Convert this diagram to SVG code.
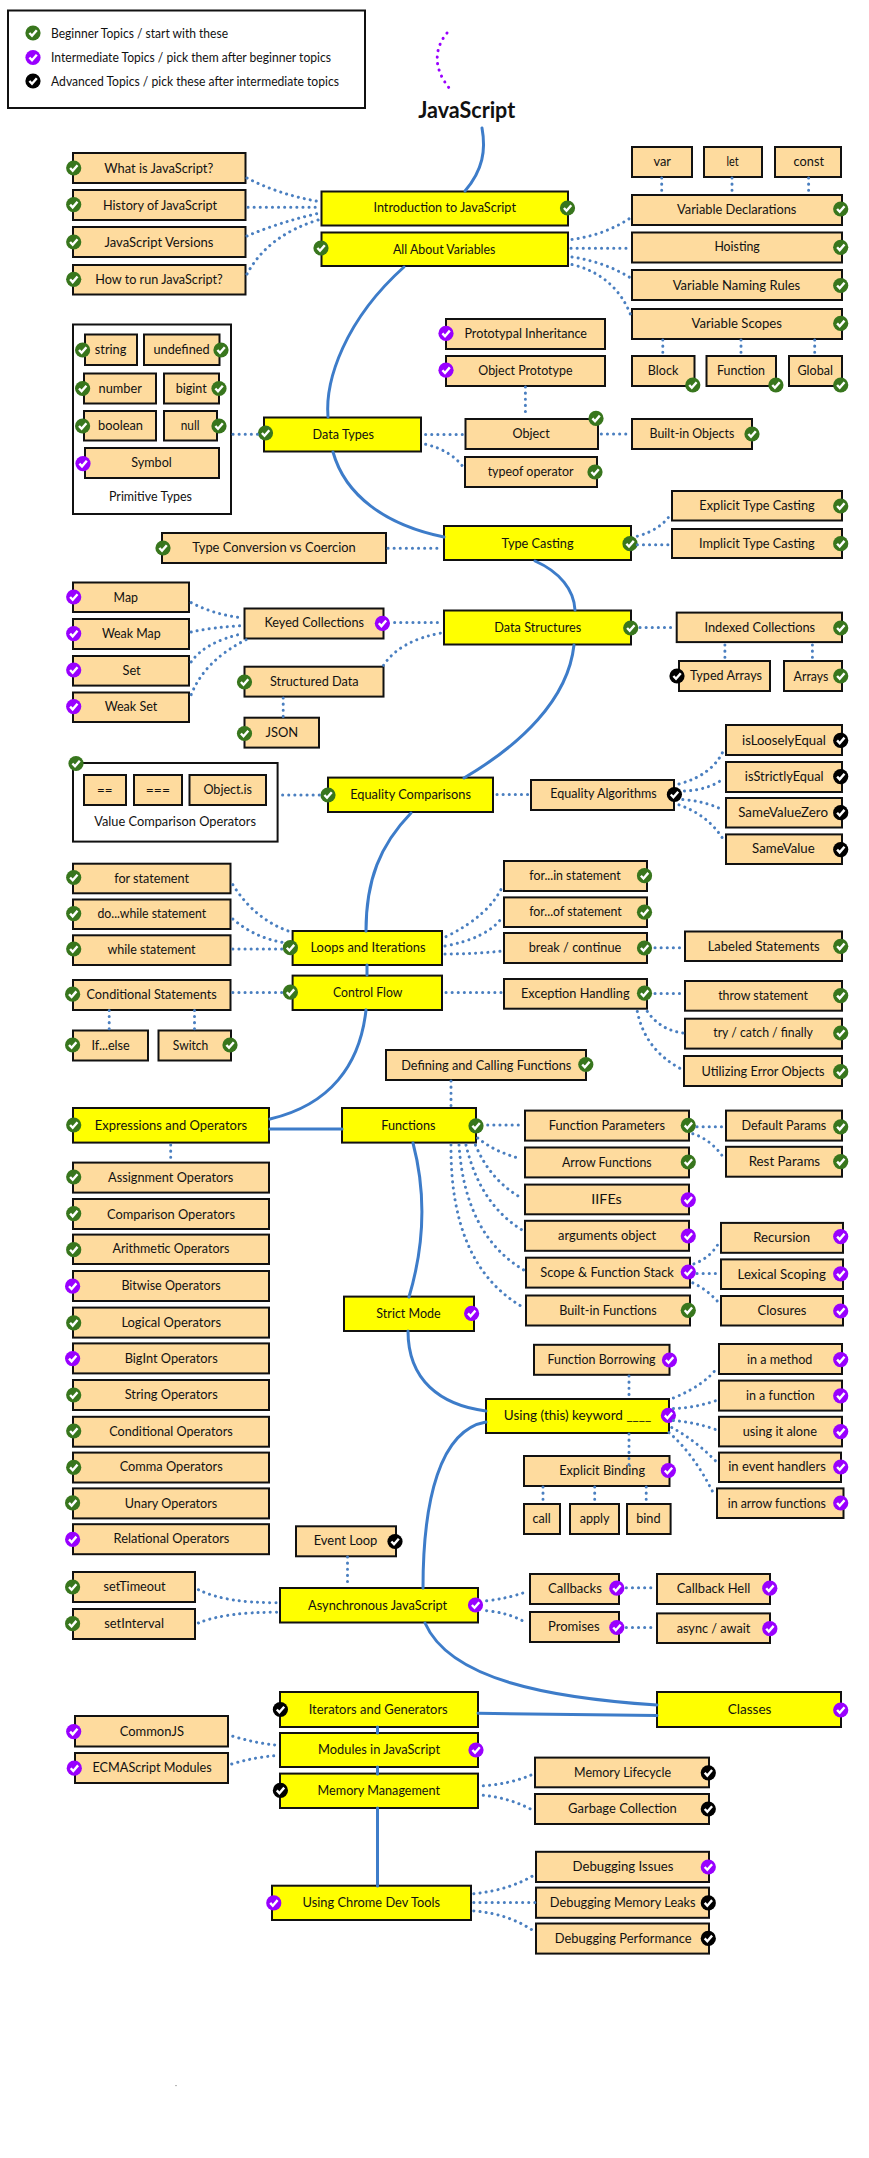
<svg xmlns="http://www.w3.org/2000/svg" width="869" height="2158" viewBox="0 0 869 2158">
<style>
.t{fill:#fedb9e;stroke:#111;stroke-width:2}
.p{fill:#ffff00;stroke:#111;stroke-width:2}
.w{fill:#fff;stroke:#111;stroke-width:2}
text{font-family:"Lato","Liberation Sans",sans-serif;font-size:13px;fill:#111;text-anchor:middle;dominant-baseline:central}
.s{text-anchor:start}
.h{font-size:22px;font-weight:700}
.c{fill:none;stroke:#3d7cc9;stroke-width:3;stroke-linecap:round}
.d{fill:none;stroke:#4a7fc0;stroke-width:3;stroke-linecap:round;stroke-dasharray:0.1 6}
.m{fill:none;stroke:#9900ff;stroke-width:3;stroke-linecap:round;stroke-dasharray:0.1 6.5}
</style>
<defs>
<g id="g"><circle r="7.6" fill="#38761d"/><path d="M-3.6,0 L-1,2.8 L3.8,-2.8" fill="none" stroke="#fff" stroke-width="2.4"/></g>
<g id="v"><circle r="7.6" fill="#9900ff"/><path d="M-3.6,0 L-1,2.8 L3.8,-2.8" fill="none" stroke="#fff" stroke-width="2.4"/></g>
<g id="k"><circle r="7.6" fill="#000"/><path d="M-3.6,0 L-1,2.8 L3.8,-2.8" fill="none" stroke="#fff" stroke-width="2.4"/></g>
</defs>
<rect width="869" height="2158" fill="#fff"/>

<g id="legend">
<rect class="w" x="8" y="10.5" width="357" height="97.5"/>
<use href="#g" x="33" y="33"/><text class="s" x="51" y="33" textLength="177" lengthAdjust="spacingAndGlyphs">Beginner Topics / start with these</text>
<use href="#v" x="33" y="57.5"/><text class="s" x="51" y="57" textLength="280" lengthAdjust="spacingAndGlyphs">Intermediate Topics / pick them after beginner topics</text>
<use href="#k" x="33" y="81"/><text class="s" x="51" y="80.6" textLength="288" lengthAdjust="spacingAndGlyphs">Advanced Topics / pick these after intermediate topics</text>
</g>
<g id="title"><path class="m" d="M447,33 C433,50 434,70 450,89"/><text class="h" x="466.7" y="109.5" textLength="97" lengthAdjust="spacingAndGlyphs">JavaScript</text></g>

<g id="n-what"><rect class="t" x="73" y="153" width="172.5" height="30"/><text x="158.7" y="167.7" textLength="109" lengthAdjust="spacingAndGlyphs">What is JavaScript?</text><use href="#g" x="73.7" y="168"/></g>
<g id="n-history"><rect class="t" x="73" y="190" width="172.5" height="30"/><text x="160" y="205" textLength="114" lengthAdjust="spacingAndGlyphs">History of JavaScript</text><use href="#g" x="73.7" y="204.6"/></g>
<g id="n-versions"><rect class="t" x="73" y="227" width="172.5" height="30"/><text x="159" y="242" textLength="109" lengthAdjust="spacingAndGlyphs">JavaScript Versions</text><use href="#g" x="73.7" y="242"/></g>
<g id="n-run"><rect class="t" x="73" y="265" width="172.5" height="29.5"/><text x="159" y="279" textLength="127.5" lengthAdjust="spacingAndGlyphs">How to run JavaScript?</text><use href="#g" x="73.7" y="279.3"/></g>
<g id="n-intro"><rect class="p" x="321.5" y="191.5" width="246.5" height="34"/><text x="444.7" y="207.3" textLength="142.5" lengthAdjust="spacingAndGlyphs">Introduction to JavaScript</text><use href="#g" x="567.5" y="208"/></g>
<g id="n-vars"><rect class="p" x="321.5" y="232.5" width="246.5" height="33.5"/><text x="444.2" y="248.7" textLength="102.5" lengthAdjust="spacingAndGlyphs">All About Variables</text><use href="#g" x="321" y="248"/></g>
<g id="n-var"><rect class="t" x="632" y="147" width="60" height="30"/><text x="662.2" y="161" textLength="17.6" lengthAdjust="spacingAndGlyphs">var</text></g>
<g id="n-let"><rect class="t" x="704" y="147" width="58" height="30"/><text x="732.6" y="161" textLength="12.2" lengthAdjust="spacingAndGlyphs">let</text></g>
<g id="n-const"><rect class="t" x="775" y="147" width="66" height="30"/><text x="808.8" y="161" textLength="30.4" lengthAdjust="spacingAndGlyphs">const</text></g>
<g id="n-decl"><rect class="t" x="632" y="195" width="210" height="30"/><text x="736.7" y="208.7" textLength="119.4" lengthAdjust="spacingAndGlyphs">Variable Declarations</text><use href="#g" x="840.7" y="209"/></g>
<g id="n-hoist"><rect class="t" x="632" y="232.5" width="210" height="30"/><text x="737.1" y="246" textLength="45.4" lengthAdjust="spacingAndGlyphs">Hoisting</text><use href="#g" x="840.7" y="247.3"/></g>
<g id="n-naming"><rect class="t" x="632" y="270" width="210" height="30"/><text x="736.5" y="284.5" textLength="127.5" lengthAdjust="spacingAndGlyphs">Variable Naming Rules</text><use href="#g" x="840.7" y="285.5"/></g>
<g id="n-scopes"><rect class="t" x="632" y="309" width="210" height="30"/><text x="736.8" y="323" textLength="90.4" lengthAdjust="spacingAndGlyphs">Variable Scopes</text><use href="#g" x="840.7" y="323.4"/></g>
<g id="n-block"><rect class="t" x="632" y="356" width="62.5" height="30"/><text x="663.1" y="369.5" textLength="30.5" lengthAdjust="spacingAndGlyphs">Block</text><use href="#g" x="692.8" y="385"/></g>
<g id="n-function"><rect class="t" x="706.5" y="356" width="69.5" height="30"/><text x="741" y="369.5" textLength="48" lengthAdjust="spacingAndGlyphs">Function</text><use href="#g" x="775.9" y="385"/></g>
<g id="n-global"><rect class="t" x="789" y="356" width="53" height="30"/><text x="815.2" y="369.5" textLength="35.5" lengthAdjust="spacingAndGlyphs">Global</text><use href="#g" x="840.7" y="385"/></g>
<g id="n-protoinh"><rect class="t" x="446" y="319" width="159" height="30"/><text x="525.7" y="333" textLength="122.6" lengthAdjust="spacingAndGlyphs">Prototypal Inheritance</text><use href="#v" x="446" y="333.4"/></g>
<g id="n-proto"><rect class="t" x="446" y="356" width="159" height="30"/><text x="525.4" y="370" textLength="94.2" lengthAdjust="spacingAndGlyphs">Object Prototype</text><use href="#v" x="446" y="370.2"/></g>
<g id="n-object"><rect class="t" x="465.5" y="419" width="132.5" height="30"/><text x="531.2" y="433" textLength="37.2" lengthAdjust="spacingAndGlyphs">Object</text><use href="#g" x="596" y="418.4"/></g>
<g id="n-builtin"><rect class="t" x="632" y="419" width="120" height="30"/><text x="691.9" y="433" textLength="84.8" lengthAdjust="spacingAndGlyphs">Built-in Objects</text><use href="#g" x="752" y="434"/></g>
<g id="n-typeof"><rect class="t" x="465" y="457" width="132" height="30"/><text x="530.6" y="471" textLength="85.9" lengthAdjust="spacingAndGlyphs">typeof operator</text><use href="#g" x="595" y="472"/></g>
<g id="n-datatypes"><rect class="p" x="264" y="417.5" width="157" height="34"/><text x="343.3" y="433.6" textLength="61.4" lengthAdjust="spacingAndGlyphs">Data Types</text><use href="#g" x="265.5" y="433"/></g>
<g id="n-primitive"><rect class="w" x="73" y="324.5" width="158" height="189.5"/><text x="150.5" y="496" textLength="83" lengthAdjust="spacingAndGlyphs">Primitive Types</text></g>
<g id="n-string"><rect class="t" x="85" y="334.5" width="52" height="30.5"/><text x="110.6" y="349" textLength="31.6" lengthAdjust="spacingAndGlyphs">string</text><use href="#g" x="82.6" y="350"/></g>
<g id="n-undefined"><rect class="t" x="144" y="334.5" width="75.5" height="30.5"/><text x="181.5" y="349" textLength="56" lengthAdjust="spacingAndGlyphs">undefined</text><use href="#g" x="221" y="350"/></g>
<g id="n-number"><rect class="t" x="84" y="373.5" width="72" height="30"/><text x="120.2" y="387.5" textLength="43.3" lengthAdjust="spacingAndGlyphs">number</text><use href="#g" x="82.6" y="388.5"/></g>
<g id="n-bigint"><rect class="t" x="164" y="373.5" width="55" height="30"/><text x="191.2" y="387.5" textLength="31" lengthAdjust="spacingAndGlyphs">bigint</text><use href="#g" x="219" y="388.5"/></g>
<g id="n-boolean"><rect class="t" x="84" y="411" width="72" height="29.5"/><text x="120.5" y="425" textLength="45" lengthAdjust="spacingAndGlyphs">boolean</text><use href="#g" x="82.6" y="426"/></g>
<g id="n-null"><rect class="t" x="164" y="411" width="53" height="29.5"/><text x="190.1" y="425" textLength="18.8" lengthAdjust="spacingAndGlyphs">null</text><use href="#g" x="219" y="426"/></g>
<g id="n-symbol"><rect class="t" x="85" y="448" width="134" height="30"/><text x="151.5" y="462" textLength="40.5" lengthAdjust="spacingAndGlyphs">Symbol</text><use href="#v" x="83" y="463.6"/></g>
<g id="n-explicit"><rect class="t" x="672" y="491" width="170" height="29.5"/><text x="757" y="504.5" textLength="115.3" lengthAdjust="spacingAndGlyphs">Explicit Type Casting</text><use href="#g" x="840.7" y="506"/></g>
<g id="n-implicit"><rect class="t" x="672" y="529" width="170" height="29"/><text x="756.9" y="542.7" textLength="115.7" lengthAdjust="spacingAndGlyphs">Implicit Type Casting</text><use href="#g" x="840.7" y="543.7"/></g>
<g id="n-casting"><rect class="p" x="444" y="526" width="187" height="34"/><text x="537.5" y="542.7" textLength="72" lengthAdjust="spacingAndGlyphs">Type Casting</text><use href="#g" x="630" y="543.7"/></g>
<g id="n-conv"><rect class="t" x="162" y="533" width="224" height="30"/><text x="274" y="546.8" textLength="163.5" lengthAdjust="spacingAndGlyphs">Type Conversion vs Coercion</text><use href="#g" x="163" y="548"/></g>
<g id="n-map"><rect class="t" x="73" y="582.5" width="116" height="29.5"/><text x="125.8" y="596.8" textLength="24.4" lengthAdjust="spacingAndGlyphs">Map</text><use href="#v" x="73.7" y="597"/></g>
<g id="n-weakmap"><rect class="t" x="73" y="619" width="116" height="30"/><text x="131.3" y="633.3" textLength="58.7" lengthAdjust="spacingAndGlyphs">Weak Map</text><use href="#v" x="73.7" y="633.6"/></g>
<g id="n-set"><rect class="t" x="73" y="656" width="116" height="29.6"/><text x="131.6" y="669.8" textLength="18.3" lengthAdjust="spacingAndGlyphs">Set</text><use href="#v" x="73.7" y="670"/></g>
<g id="n-weakset"><rect class="t" x="73" y="692.5" width="116" height="29.5"/><text x="131" y="706.3" textLength="52.7" lengthAdjust="spacingAndGlyphs">Weak Set</text><use href="#v" x="73.7" y="706.6"/></g>
<g id="n-keyed"><rect class="t" x="244.5" y="608.5" width="139" height="30"/><text x="314.2" y="622.3" textLength="99.6" lengthAdjust="spacingAndGlyphs">Keyed Collections</text><use href="#v" x="382.4" y="623.3"/></g>
<g id="n-ds"><rect class="p" x="444" y="610.5" width="187" height="34"/><text x="537.8" y="626.7" textLength="87.1" lengthAdjust="spacingAndGlyphs">Data Structures</text><use href="#g" x="630.7" y="628"/></g>
<g id="n-indexed"><rect class="t" x="676.7" y="612.6" width="165.3" height="29.5"/><text x="759.8" y="626.7" textLength="110.8" lengthAdjust="spacingAndGlyphs">Indexed Collections</text><use href="#g" x="840.7" y="628"/></g>
<g id="n-typed"><rect class="t" x="679" y="661" width="91" height="30"/><text x="726" y="675.3" textLength="72" lengthAdjust="spacingAndGlyphs">Typed Arrays</text><use href="#k" x="677" y="676"/></g>
<g id="n-arrays"><rect class="t" x="784" y="661" width="58" height="30"/><text x="811" y="676" textLength="34.9" lengthAdjust="spacingAndGlyphs">Arrays</text><use href="#g" x="840.7" y="676"/></g>
<g id="n-structured"><rect class="t" x="244.5" y="666.7" width="139" height="29.9"/><text x="314.3" y="680.8" textLength="88.6" lengthAdjust="spacingAndGlyphs">Structured Data</text><use href="#g" x="244.5" y="682"/></g>
<g id="n-json"><rect class="t" x="244.5" y="717.7" width="74.5" height="29.9"/><text x="281.8" y="731.8" textLength="32.7" lengthAdjust="spacingAndGlyphs">JSON</text><use href="#g" x="244.5" y="733.5"/></g>
<g id="n-valuecmp"><rect class="w" x="73" y="763" width="204.6" height="78.6"/><text x="175.1" y="821.3" textLength="161.8" lengthAdjust="spacingAndGlyphs">Value Comparison Operators</text><use href="#g" x="76" y="763.5"/></g>
<g id="n-eq2"><rect class="t" x="84" y="775" width="42" height="30"/><text x="104.7" y="789.6" textLength="15.5" lengthAdjust="spacingAndGlyphs">==</text></g>
<g id="n-eq3"><rect class="t" x="134" y="775" width="48" height="30"/><text x="157.9" y="789.6" textLength="24.2" lengthAdjust="spacingAndGlyphs">===</text></g>
<g id="n-objectis"><rect class="t" x="189.5" y="775" width="76.5" height="30"/><text x="227.7" y="789.3" textLength="48.6" lengthAdjust="spacingAndGlyphs">Object.is</text></g>
<g id="n-equality"><rect class="p" x="328" y="777.6" width="165" height="34.4"/><text x="410.6" y="794" textLength="120.7" lengthAdjust="spacingAndGlyphs">Equality Comparisons</text><use href="#g" x="328" y="795"/></g>
<g id="n-eqalg"><rect class="t" x="531" y="780" width="143" height="30"/><text x="603.5" y="793.4" textLength="106.4" lengthAdjust="spacingAndGlyphs">Equality Algorithms</text><use href="#k" x="674.4" y="794.5"/></g>
<g id="n-loose"><rect class="t" x="726" y="725" width="116" height="30"/><text x="783.9" y="739.7" textLength="83.8" lengthAdjust="spacingAndGlyphs">isLooselyEqual</text><use href="#k" x="840.7" y="740.4"/></g>
<g id="n-strict"><rect class="t" x="726" y="762" width="116" height="30"/><text x="784.2" y="775.9" textLength="78.7" lengthAdjust="spacingAndGlyphs">isStrictlyEqual</text><use href="#k" x="840.7" y="776.6"/></g>
<g id="n-svz"><rect class="t" x="726" y="798" width="116" height="29.5"/><text x="783.1" y="811.7" textLength="89.8" lengthAdjust="spacingAndGlyphs">SameValueZero</text><use href="#k" x="840.7" y="812.7"/></g>
<g id="n-sv"><rect class="t" x="726" y="834.4" width="116" height="29.6"/><text x="783.4" y="848.2" textLength="62.7" lengthAdjust="spacingAndGlyphs">SameValue</text><use href="#k" x="840.7" y="849.6"/></g>
<g id="n-for"><rect class="t" x="73" y="863.7" width="157.5" height="29.6"/><text x="151.6" y="877.5" textLength="74.8" lengthAdjust="spacingAndGlyphs">for statement</text><use href="#g" x="73.7" y="877.5"/></g>
<g id="n-dowhile"><rect class="t" x="73" y="899.5" width="157.5" height="29.5"/><text x="151.8" y="913.3" textLength="108.7" lengthAdjust="spacingAndGlyphs">do...while statement</text><use href="#g" x="73.7" y="913.6"/></g>
<g id="n-while"><rect class="t" x="73" y="935.3" width="157.5" height="29.7"/><text x="151.5" y="949" textLength="88.1" lengthAdjust="spacingAndGlyphs">while statement</text><use href="#g" x="73.7" y="949"/></g>
<g id="n-cond"><rect class="t" x="73" y="980" width="157.5" height="30"/><text x="151.6" y="994.2" textLength="130.2" lengthAdjust="spacingAndGlyphs">Conditional Statements</text><use href="#g" x="72.6" y="994.2"/></g>
<g id="n-loops"><rect class="p" x="292.6" y="931" width="149.4" height="34"/><text x="368" y="947" textLength="115.2" lengthAdjust="spacingAndGlyphs">Loops and Iterations</text><use href="#g" x="290.4" y="947.7"/></g>
<g id="n-control"><rect class="p" x="292.6" y="975.6" width="149.4" height="34.4"/><text x="367.7" y="991.5" textLength="69.4" lengthAdjust="spacingAndGlyphs">Control Flow</text><use href="#g" x="290.4" y="992.2"/></g>
<g id="n-forin"><rect class="t" x="504" y="861" width="143" height="30"/><text x="575" y="875.4" textLength="91.4" lengthAdjust="spacingAndGlyphs">for...in statement</text><use href="#g" x="644.5" y="875.7"/></g>
<g id="n-forof"><rect class="t" x="504" y="897.4" width="143" height="29.6"/><text x="575.5" y="911.2" textLength="92.5" lengthAdjust="spacingAndGlyphs">for...of statement</text><use href="#g" x="644.5" y="912.2"/></g>
<g id="n-break"><rect class="t" x="504" y="933" width="143" height="30"/><text x="575" y="947" textLength="92.6" lengthAdjust="spacingAndGlyphs">break / continue</text><use href="#g" x="644.5" y="948"/></g>
<g id="n-labeled"><rect class="t" x="685" y="931.5" width="157" height="29.5"/><text x="763.7" y="945.7" textLength="112" lengthAdjust="spacingAndGlyphs">Labeled Statements</text><use href="#g" x="840.7" y="946.3"/></g>
<g id="n-exception"><rect class="t" x="504" y="979" width="143" height="29.7"/><text x="575.3" y="992.8" textLength="108.6" lengthAdjust="spacingAndGlyphs">Exception Handling</text><use href="#g" x="644.5" y="993.2"/></g>
<g id="n-throw"><rect class="t" x="685" y="981" width="157" height="29.7"/><text x="763.1" y="995" textLength="89.8" lengthAdjust="spacingAndGlyphs">throw statement</text><use href="#g" x="840.7" y="995.6"/></g>
<g id="n-try"><rect class="t" x="685" y="1018.7" width="157" height="29.9"/><text x="763.1" y="1032.4" textLength="99.7" lengthAdjust="spacingAndGlyphs">try / catch / finally</text><use href="#g" x="840.7" y="1033"/></g>
<g id="n-ifelse"><rect class="t" x="73" y="1030.5" width="75" height="30"/><text x="110.6" y="1045" textLength="38.3" lengthAdjust="spacingAndGlyphs">If...else</text><use href="#g" x="72.6" y="1045"/></g>
<g id="n-switch"><rect class="t" x="158.5" y="1030.5" width="72.5" height="30"/><text x="190.6" y="1045" textLength="35.5" lengthAdjust="spacingAndGlyphs">Switch</text><use href="#g" x="230" y="1045"/></g>
<g id="n-defining"><rect class="t" x="386" y="1050" width="200" height="30"/><text x="486.3" y="1064.5" textLength="170.2" lengthAdjust="spacingAndGlyphs">Defining and Calling Functions</text><use href="#g" x="585.8" y="1064.5"/></g>
<g id="n-utilizing"><rect class="t" x="684" y="1056" width="158" height="30"/><text x="763.1" y="1070.7" textLength="123.1" lengthAdjust="spacingAndGlyphs">Utilizing Error Objects</text><use href="#g" x="840.7" y="1071.7"/></g>
<g id="n-expr"><rect class="p" x="73" y="1108" width="196" height="34.6"/><text x="171" y="1124.7" textLength="152.4" lengthAdjust="spacingAndGlyphs">Expressions and Operators</text><use href="#g" x="73.7" y="1125"/></g>
<g id="n-functions"><rect class="p" x="342" y="1108" width="134" height="34.6"/><text x="408.4" y="1124.7" textLength="54.3" lengthAdjust="spacingAndGlyphs">Functions</text><use href="#g" x="476" y="1125.8"/></g>
<g id="n-params"><rect class="t" x="525" y="1110.6" width="164" height="30"/><text x="606.8" y="1124.7" textLength="116.3" lengthAdjust="spacingAndGlyphs">Function Parameters</text><use href="#g" x="688.3" y="1125.4"/></g>
<g id="n-default"><rect class="t" x="726" y="1110.6" width="116" height="30"/><text x="783.9" y="1124.7" textLength="84.8" lengthAdjust="spacingAndGlyphs">Default Params</text><use href="#g" x="840.7" y="1126.8"/></g>
<g id="n-arrow"><rect class="t" x="525" y="1147.5" width="164" height="29.9"/><text x="606.8" y="1161.6" textLength="89.7" lengthAdjust="spacingAndGlyphs">Arrow Functions</text><use href="#g" x="688.3" y="1162"/></g>
<g id="n-rest"><rect class="t" x="726" y="1146.8" width="116" height="29.9"/><text x="784.4" y="1161" textLength="71.5" lengthAdjust="spacingAndGlyphs">Rest Params</text><use href="#g" x="840.7" y="1161.6"/></g>
<g id="n-iife"><rect class="t" x="525" y="1184.6" width="164" height="29.7"/><text x="606.5" y="1198.8" textLength="30.5" lengthAdjust="spacingAndGlyphs">IIFEs</text><use href="#v" x="688.3" y="1199.8"/></g>
<g id="n-args"><rect class="t" x="525" y="1220.8" width="164" height="30"/><text x="607.1" y="1235" textLength="98.2" lengthAdjust="spacingAndGlyphs">arguments object</text><use href="#v" x="688.3" y="1236"/></g>
<g id="n-scope"><rect class="t" x="526" y="1257.7" width="164" height="29.9"/><text x="607.1" y="1271.8" textLength="133.5" lengthAdjust="spacingAndGlyphs">Scope &amp; Function Stack</text><use href="#v" x="688.3" y="1272"/></g>
<g id="n-builtinf"><rect class="t" x="526" y="1295.5" width="164" height="30"/><text x="608" y="1310.3" textLength="97.5" lengthAdjust="spacingAndGlyphs">Built-in Functions</text><use href="#g" x="688.3" y="1310.3"/></g>
<g id="n-recursion"><rect class="t" x="721" y="1222.9" width="122" height="29.9"/><text x="781.7" y="1236.6" textLength="57" lengthAdjust="spacingAndGlyphs">Recursion</text><use href="#v" x="840.7" y="1236.6"/></g>
<g id="n-lexical"><rect class="t" x="721" y="1259.4" width="122" height="29.6"/><text x="781.7" y="1273.5" textLength="88.2" lengthAdjust="spacingAndGlyphs">Lexical Scoping</text><use href="#v" x="840.7" y="1273.8"/></g>
<g id="n-closures"><rect class="t" x="721" y="1296" width="122" height="29.5"/><text x="782" y="1310.3" textLength="48.8" lengthAdjust="spacingAndGlyphs">Closures</text><use href="#v" x="840.7" y="1311"/></g>
<g id="n-assign"><rect class="t" x="73" y="1162.6" width="196" height="30"/><text x="170.7" y="1176.7" textLength="125.3" lengthAdjust="spacingAndGlyphs">Assignment Operators</text><use href="#g" x="73.7" y="1177"/></g>
<g id="n-compare"><rect class="t" x="73" y="1199" width="196" height="30"/><text x="171" y="1213.6" textLength="128" lengthAdjust="spacingAndGlyphs">Comparison Operators</text><use href="#g" x="73.7" y="1213.6"/></g>
<g id="n-arith"><rect class="t" x="73" y="1234.6" width="196" height="29.4"/><text x="171" y="1248.4" textLength="116.9" lengthAdjust="spacingAndGlyphs">Arithmetic Operators</text><use href="#g" x="73.7" y="1249.7"/></g>
<g id="n-bitwise"><rect class="t" x="73" y="1271" width="196" height="30"/><text x="171" y="1284.9" textLength="99.2" lengthAdjust="spacingAndGlyphs">Bitwise Operators</text><use href="#v" x="72.6" y="1286.2"/></g>
<g id="n-logical"><rect class="t" x="73" y="1307.6" width="196" height="30"/><text x="171.2" y="1321.7" textLength="99.6" lengthAdjust="spacingAndGlyphs">Logical Operators</text><use href="#g" x="73.7" y="1322.8"/></g>
<g id="n-bigintop"><rect class="t" x="73" y="1343.4" width="196" height="30"/><text x="171.2" y="1357.5" textLength="93.1" lengthAdjust="spacingAndGlyphs">BigInt Operators</text><use href="#v" x="72.6" y="1358.6"/></g>
<g id="n-stringop"><rect class="t" x="73" y="1380" width="196" height="30"/><text x="171.2" y="1394" textLength="93.1" lengthAdjust="spacingAndGlyphs">String Operators</text><use href="#g" x="73.7" y="1395"/></g>
<g id="n-condop"><rect class="t" x="73" y="1416.8" width="196" height="29.9"/><text x="171" y="1430.5" textLength="123.6" lengthAdjust="spacingAndGlyphs">Conditional Operators</text><use href="#g" x="73.7" y="1431"/></g>
<g id="n-comma"><rect class="t" x="73" y="1452.6" width="196" height="29.9"/><text x="171.2" y="1466.4" textLength="103.1" lengthAdjust="spacingAndGlyphs">Comma Operators</text><use href="#g" x="73.7" y="1467.4"/></g>
<g id="n-unary"><rect class="t" x="73" y="1488.4" width="196" height="30"/><text x="171" y="1502.5" textLength="92.5" lengthAdjust="spacingAndGlyphs">Unary Operators</text><use href="#g" x="72.6" y="1502.9"/></g>
<g id="n-relational"><rect class="t" x="73" y="1524.2" width="196" height="30"/><text x="171.5" y="1538.4" textLength="115.8" lengthAdjust="spacingAndGlyphs">Relational Operators</text><use href="#v" x="72.6" y="1539.4"/></g>
<g id="n-strictmode"><rect class="p" x="344" y="1296.6" width="130" height="34.4"/><text x="408.5" y="1313.4" textLength="64.3" lengthAdjust="spacingAndGlyphs">Strict Mode</text><use href="#v" x="471.6" y="1313.4"/></g>
<g id="n-borrow"><rect class="t" x="534" y="1344.8" width="135.5" height="30"/><text x="601.5" y="1359" textLength="108.1" lengthAdjust="spacingAndGlyphs">Function Borrowing</text><use href="#v" x="669.5" y="1360"/></g>
<g id="n-method"><rect class="t" x="719" y="1344" width="123" height="30"/><text x="779.7" y="1358.6" textLength="65.4" lengthAdjust="spacingAndGlyphs">in a method</text><use href="#v" x="840.7" y="1359.6"/></g>
<g id="n-infunc"><rect class="t" x="719" y="1380.6" width="123" height="30"/><text x="780.3" y="1394.7" textLength="68.7" lengthAdjust="spacingAndGlyphs">in a function</text><use href="#v" x="840.7" y="1395.8"/></g>
<g id="n-alone"><rect class="t" x="719" y="1416.8" width="123" height="29.6"/><text x="779.8" y="1430.9" textLength="74.3" lengthAdjust="spacingAndGlyphs">using it alone</text><use href="#v" x="840.7" y="1431.6"/></g>
<g id="n-event"><rect class="t" x="719" y="1452.6" width="122" height="29.4"/><text x="777" y="1466.4" textLength="97.6" lengthAdjust="spacingAndGlyphs">in event handlers</text><use href="#v" x="840.7" y="1467"/></g>
<g id="n-arrowthis"><rect class="t" x="717" y="1488.4" width="126.5" height="29.6"/><text x="776.8" y="1502.5" textLength="98.1" lengthAdjust="spacingAndGlyphs">in arrow functions</text><use href="#v" x="840.7" y="1503"/></g>
<g id="n-this"><rect class="p" x="486" y="1399" width="183" height="34"/><text x="577.5" y="1415.4" textLength="147.4" lengthAdjust="spacingAndGlyphs">Using (this) keyword ____</text><use href="#v" x="668.4" y="1415.4"/></g>
<g id="n-binding"><rect class="t" x="524" y="1456" width="145.5" height="30"/><text x="602.1" y="1470" textLength="85.8" lengthAdjust="spacingAndGlyphs">Explicit Binding</text><use href="#v" x="668.4" y="1470.5"/></g>
<g id="n-call"><rect class="t" x="524" y="1504" width="36" height="30"/><text x="541.7" y="1518.4" textLength="18.3" lengthAdjust="spacingAndGlyphs">call</text></g>
<g id="n-apply"><rect class="t" x="570" y="1504" width="49" height="30"/><text x="594.6" y="1518.4" textLength="29.9" lengthAdjust="spacingAndGlyphs">apply</text></g>
<g id="n-bind"><rect class="t" x="627" y="1504" width="43.6" height="30"/><text x="648.4" y="1518.4" textLength="24.4" lengthAdjust="spacingAndGlyphs">bind</text></g>
<g id="n-eventloop"><rect class="t" x="296" y="1526.3" width="100" height="30"/><text x="345.5" y="1540.4" textLength="63.7" lengthAdjust="spacingAndGlyphs">Event Loop</text><use href="#k" x="395" y="1541.5"/></g>
<g id="n-timeout"><rect class="t" x="73" y="1572" width="122" height="30"/><text x="134.6" y="1586.3" textLength="62.1" lengthAdjust="spacingAndGlyphs">setTimeout</text><use href="#g" x="72.6" y="1587"/></g>
<g id="n-interval"><rect class="t" x="73" y="1609" width="122" height="30"/><text x="134.1" y="1623" textLength="59.8" lengthAdjust="spacingAndGlyphs">setInterval</text><use href="#g" x="72.6" y="1623.7"/></g>
<g id="n-async"><rect class="p" x="280" y="1588" width="198" height="34.5"/><text x="377.6" y="1604.6" textLength="139.1" lengthAdjust="spacingAndGlyphs">Asynchronous JavaScript</text><use href="#v" x="475.5" y="1605"/></g>
<g id="n-callbacks"><rect class="t" x="530" y="1574" width="89" height="30"/><text x="575" y="1587.5" textLength="53.9" lengthAdjust="spacingAndGlyphs">Callbacks</text><use href="#v" x="616.8" y="1588.2"/></g>
<g id="n-hell"><rect class="t" x="657" y="1574" width="113" height="30"/><text x="713.5" y="1587.5" textLength="73.7" lengthAdjust="spacingAndGlyphs">Callback Hell</text><use href="#v" x="769.8" y="1588.2"/></g>
<g id="n-promises"><rect class="t" x="530" y="1612" width="89" height="30"/><text x="573.8" y="1626" textLength="51.7" lengthAdjust="spacingAndGlyphs">Promises</text><use href="#v" x="616.8" y="1627.5"/></g>
<g id="n-await"><rect class="t" x="657" y="1613.4" width="113" height="29.6"/><text x="713.5" y="1627.5" textLength="73.7" lengthAdjust="spacingAndGlyphs">async / await</text><use href="#v" x="769.8" y="1628.7"/></g>
<g id="n-iter"><rect class="p" x="280" y="1692" width="198" height="35"/><text x="378.2" y="1708.7" textLength="139.1" lengthAdjust="spacingAndGlyphs">Iterators and Generators</text><use href="#k" x="280.4" y="1709.5"/></g>
<g id="n-classes"><rect class="p" x="657" y="1692" width="184" height="35"/><text x="749.6" y="1708.7" textLength="43.8" lengthAdjust="spacingAndGlyphs">Classes</text><use href="#v" x="840.7" y="1710"/></g>
<g id="n-commonjs"><rect class="t" x="75" y="1716" width="153" height="30.5"/><text x="151.8" y="1730.5" textLength="64.3" lengthAdjust="spacingAndGlyphs">CommonJS</text><use href="#v" x="73.7" y="1731.6"/></g>
<g id="n-esm"><rect class="t" x="75" y="1753" width="153" height="30"/><text x="152.1" y="1767" textLength="119.2" lengthAdjust="spacingAndGlyphs">ECMAScript Modules</text><use href="#v" x="74.3" y="1768.2"/></g>
<g id="n-modules"><rect class="p" x="280" y="1733" width="198" height="34"/><text x="379" y="1748.8" textLength="122" lengthAdjust="spacingAndGlyphs">Modules in JavaScript</text><use href="#v" x="476" y="1750"/></g>
<g id="n-memory"><rect class="p" x="280" y="1773.6" width="198" height="34.4"/><text x="378.8" y="1789.6" textLength="122.4" lengthAdjust="spacingAndGlyphs">Memory Management</text><use href="#k" x="280.4" y="1790.4"/></g>
<g id="n-lifecycle"><rect class="t" x="535" y="1757.6" width="174" height="29.7"/><text x="622.5" y="1771.7" textLength="97" lengthAdjust="spacingAndGlyphs">Memory Lifecycle</text><use href="#k" x="708.3" y="1772.8"/></g>
<g id="n-gc"><rect class="t" x="535" y="1794" width="174" height="30"/><text x="622.4" y="1808" textLength="108.7" lengthAdjust="spacingAndGlyphs">Garbage Collection</text><use href="#k" x="708.3" y="1809"/></g>
<g id="n-devtools"><rect class="p" x="272" y="1885.7" width="199" height="34.3"/><text x="371.3" y="1902" textLength="137.4" lengthAdjust="spacingAndGlyphs">Using Chrome Dev Tools</text><use href="#v" x="273.8" y="1902.9"/></g>
<g id="n-issues"><rect class="t" x="536" y="1851.8" width="173" height="30.2"/><text x="623" y="1865.9" textLength="100.9" lengthAdjust="spacingAndGlyphs">Debugging Issues</text><use href="#v" x="708.3" y="1867"/></g>
<g id="n-leaks"><rect class="t" x="536" y="1887.6" width="173" height="30.2"/><text x="622.7" y="1902" textLength="145.7" lengthAdjust="spacingAndGlyphs">Debugging Memory Leaks</text><use href="#k" x="708.3" y="1902.9"/></g>
<g id="n-perf"><rect class="t" x="536" y="1923.5" width="173" height="30.1"/><text x="623.2" y="1937.6" textLength="136.8" lengthAdjust="spacingAndGlyphs">Debugging Performance</text><use href="#k" x="708.3" y="1938.4"/></g>

<g id="connectors">
<path class="c" d="M482,128 C486,150 483,170 465,191"/>
<path class="c" d="M404,267 C345,320 325,380 328,417"/>
<path class="c" d="M333,452 C345,495 385,525 444,537"/>
<path class="c" d="M535,561 C560,572 574,590 575,610"/>
<path class="c" d="M574,645 C568,700 520,745 464,778"/>
<path class="c" d="M411,813 C380,845 366,880 366,931"/>
<path class="c" d="M367,965 V975"/>
<path class="c" d="M366,1010 C360,1065 330,1105 270,1119"/>
<path class="c" d="M270,1129 H342"/>
<path class="c" d="M413,1143 C428,1200 423,1250 409,1297"/>
<path class="c" d="M408,1331 C408,1380 440,1405 486,1411"/>
<path class="c" d="M486,1422 C440,1430 423,1500 423,1588"/>
<path class="c" d="M425,1623 C450,1680 550,1698 657,1705"/>
<path class="c" d="M478,1713.3 L657,1715.6"/>
<path class="c" d="M377.5,1727 V1733 M377.5,1767 V1774 M377.5,1808 V1886"/>
<path class="d" d="M247,178 Q280,195 319,201.5"/>
<path class="d" d="M248,207.3 H320"/>
<path class="d" d="M247,236 Q280,222 320,213"/>
<path class="d" d="M247,274 Q268,235 319,219.7"/>
<path class="d" d="M661.7,178 V195 M732,178 V195 M808.6,178 V195"/>
<path class="d" d="M572,239.4 Q605,235 630.7,217.7"/>
<path class="d" d="M571,248.3 H630.7"/>
<path class="d" d="M572,257 Q605,262 630.7,278"/>
<path class="d" d="M572,264.5 Q615,275 630.7,315"/>
<path class="d" d="M662.8,340 V356 M741,340 V356 M814.7,340 V356"/>
<path class="d" d="M525.4,387 V417"/>
<path class="d" d="M233,434.3 H258"/>
<path class="d" d="M425.6,434.6 H463"/>
<path class="d" d="M425.6,444.3 Q450,450 463,466.7"/>
<path class="d" d="M601.3,434 H629"/>
<path class="d" d="M637.3,536.2 Q660,530 670.6,514.5"/>
<path class="d" d="M637.3,544.8 H669.5"/>
<path class="d" d="M388,548.2 H442"/>
<path class="d" d="M191.2,602.6 Q215,615 242.7,617.8"/>
<path class="d" d="M191.2,632 Q215,627 242.7,625.7"/>
<path class="d" d="M191.2,661.9 Q205,642 242.7,633.6"/>
<path class="d" d="M191.2,694.6 Q205,660 246.6,639.5"/>
<path class="d" d="M394.6,622.6 H442"/>
<path class="d" d="M383.5,665.3 Q400,640 443.4,632.6"/>
<path class="d" d="M283.2,698 V717"/>
<path class="d" d="M640,627.4 H676"/>
<path class="d" d="M724.9,645 V660 M812.4,645 V660"/>
<path class="d" d="M282.6,795 H320"/>
<path class="d" d="M497,794.5 H527.6"/>
<path class="d" d="M679,784 Q712,775 723,751.4"/>
<path class="d" d="M684.4,791 Q708,790 723,779"/>
<path class="d" d="M682.8,799.6 Q705,801 723,810"/>
<path class="d" d="M679,804.8 Q708,815 723,839"/>
<path class="d" d="M232.8,884.7 Q255,920 291,932"/>
<path class="d" d="M232.8,919 Q255,938 284,942.6"/>
<path class="d" d="M232.8,949 H284"/>
<path class="d" d="M232.8,992.5 H284"/>
<path class="d" d="M109.2,1010.4 V1030 M194.5,1010.4 V1030"/>
<path class="d" d="M446,936.7 Q490,915 502.7,885.7"/>
<path class="d" d="M445,946 Q488,938 502.7,916.7"/>
<path class="d" d="M445,954 Q475,954 502.7,951"/>
<path class="d" d="M655,947.7 H683.3"/>
<path class="d" d="M446,992.5 H502.7"/>
<path class="d" d="M655,993.5 H683.3"/>
<path class="d" d="M647.3,1011.4 Q660,1030 683.3,1033"/>
<path class="d" d="M637.3,1011.4 Q645,1050 681.7,1069.3"/>
<path class="d" d="M451,1081 V1107"/>
<path class="d" d="M487.7,1125 H523.7"/>
<path class="d" d="M477.7,1138 Q495,1152 521,1158.8"/>
<path class="d" d="M475.5,1145 Q490,1180 521,1197.7"/>
<path class="d" d="M466,1145 Q480,1205 523.7,1231"/>
<path class="d" d="M459,1145 Q465,1235 523.7,1270"/>
<path class="d" d="M451,1145 Q450,1265 522.6,1307"/>
<path class="d" d="M697,1126.8 H723"/>
<path class="d" d="M692.8,1133.7 Q712,1140 724.3,1158.8"/>
<path class="d" d="M693.9,1263.9 Q710,1258 718.8,1243"/>
<path class="d" d="M697,1273.5 H719.4"/>
<path class="d" d="M692.8,1282.8 Q708,1290 719.4,1303.5"/>
<path class="d" d="M170.7,1145 V1161"/>
<path class="d" d="M629,1376 V1399"/>
<path class="d" d="M629,1434 V1467"/>
<path class="d" d="M543,1487 V1503 M594.7,1487 V1503 M646.2,1487 V1503"/>
<path class="d" d="M673.4,1398 Q705,1385 717.7,1367"/>
<path class="d" d="M673.4,1408.5 Q695,1408 717.7,1400"/>
<path class="d" d="M673.4,1420.6 Q695,1422 716.6,1429.9"/>
<path class="d" d="M671.7,1427.5 Q695,1440 716.6,1461.9"/>
<path class="d" d="M669,1432.6 Q695,1455 714.9,1496.3"/>
<path class="d" d="M347.5,1557 V1584"/>
<path class="d" d="M198.4,1589.7 Q225,1603 277,1602.7"/>
<path class="d" d="M198.4,1623 Q225,1612 277,1612.3"/>
<path class="d" d="M486.6,1600.8 Q510,1598 526.5,1591.7"/>
<path class="d" d="M486.6,1610.7 Q510,1613 526.5,1623"/>
<path class="d" d="M626.3,1587.8 H655.6"/>
<path class="d" d="M626.3,1627.5 H655.6"/>
<path class="d" d="M232.8,1736.2 Q255,1743 275.4,1745"/>
<path class="d" d="M231.7,1764 Q255,1757 275.4,1755.7"/>
<path class="d" d="M483.3,1785.8 Q510,1784 532,1774.7"/>
<path class="d" d="M483.3,1795.3 Q510,1798 532,1809.8"/>
<path class="d" d="M473.8,1893.7 Q510,1890 534.8,1874.6"/>
<path class="d" d="M473.8,1902.5 H534.8"/>
<path class="d" d="M473.8,1910.9 Q510,1914 534.8,1931.9"/>
</g>
<circle cx="176" cy="2085.6" r="0.7" fill="#777"/>
</svg>
